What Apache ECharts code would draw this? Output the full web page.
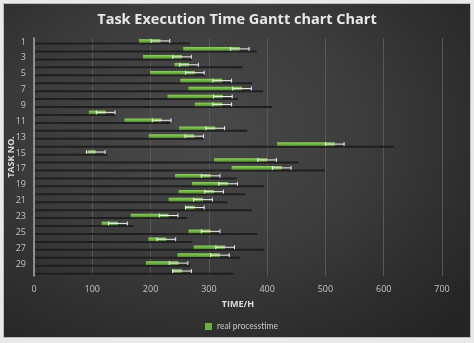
<!DOCTYPE html>
<html>
<head>
<meta charset="utf-8">
<script src="https://cdn.jsdelivr.net/npm/echarts@6/dist/echarts.min.js"></script>
<style>
html,body{margin:0;padding:0;background:#e9e9e9;}
#panel{position:absolute;left:3px;top:3px;width:466px;height:333px;border:1px solid #bdbdbd;
background:radial-gradient(ellipse 75% 80% at 42% 38%, #4a4a4a 0%, #3d3d3d 45%, #2b2b2b 85%, #252525 100%);}
#chart{position:absolute;left:0;top:0;width:474px;height:343px;}
</style>
</head>
<body>
<div id="panel"></div>
<div id="chart"></div>
<script>
const tasks = ['1','2','3','4','5','6','7','8','9','10','11','12','13','14','15','16','17','18','19','20','21','22','23','24','25','26','27','28','29','30'];
const startTime = [180,256,187,241,199,251,265,229,276,94,155,249,197,417,93,309,339,242,271,248,231,259,166,116,265,196,274,246,192,237];
const endTime   = [217,353,254,266,276,323,357,324,323,123,219,311,275,516,106,400,425,303,333,309,290,276,231,144,303,227,328,319,248,254];
const errAmount = [16,16,16,16,16,16,16,16,16,16,16,16,16,16,16,16,16,16,16,16,16,16,16,16,16,16,16,16,16,16];
const planTime  = [268,382,271,358,294,374,393,350,409,140,234,366,291,617,126,454,499,348,395,363,332,374,263,171,383,271,395,353,268,343];
const xTicks = [0,100,200,300,400,500,600,700];

const chart = echarts.init(document.getElementById('chart'), null, {renderer:'canvas'});

const greenData = tasks.map((t,i)=>[i,startTime[i],endTime[i],errAmount[i]]);
const darkData = tasks.map((t,i)=>[i,0,planTime[i]]);

const option = {
  backgroundColor: 'transparent',
  animation: false,
  title: {
    text: 'Task Execution Time Gantt chart Chart',
    left: 'center', top: 7,
    textStyle: {color:'#e8e8e8', fontFamily:'Open Sans', fontWeight:'bold', fontSize:14.5}
  },
  legend: {
    data: ['real processtime'],
    left: 200, top: 317,
    icon: 'rect', itemWidth: 7, itemHeight: 7, itemGap: 4,
    textStyle: {color:'#c8c8c8', fontFamily:'Lato', fontSize:8.5}
  },
  grid: {left:34, right:32, top:38, bottom:67, containLabel:false, outerBoundsMode:'none'},
  xAxis: {
    type:'value', min:xTicks[0], max:xTicks[xTicks.length-1], interval:100,
    name:'TIME/H', nameLocation:'middle', nameGap:24, nameMoveOverlap:false,
    nameTextStyle:{color:'#dcdcdc', fontFamily:'Open Sans', fontWeight:'bold', fontSize:9},
    axisLine:{show:false}, axisTick:{show:false},
    axisLabel:{color:'#c4c4c4', fontFamily:'Open Sans', fontSize:9, margin:9},
    splitLine:{show:true, lineStyle:{color:'#585858', width:1}}
  },
  yAxis: {
    type:'category', data: tasks, inverse:true,
    name:'TASK NO.', nameLocation:'middle', nameGap:18, nameRotate:90, nameMoveOverlap:false,
    nameTextStyle:{color:'#dcdcdc', fontFamily:'Open Sans', fontWeight:'bold', fontSize:9},
    axisLine:{show:true, lineStyle:{color:'#a8a8a8', width:1.5}},
    axisTick:{show:false},
    axisLabel:{color:'#c4c4c4', fontFamily:'Open Sans', fontSize:9, interval:1, margin:8},
    splitLine:{show:false}
  },
  series: [
    {
      name:'plan',
      type:'custom',
      data: darkData,
      encode:{x:[1,2], y:0},
      z: 1,
      renderItem: function(params, api){
        const c = api.value(0);
        const p0 = api.coord([api.value(1), c]);
        const p1 = api.coord([api.value(2), c]);
        const y = p0[1] + 1.6;
        return {type:'rect', shape:{x:p0[0]+1, y:y-1, width:p1[0]-p0[0]-1, height:2},
                style:{fill:'#1f1f1f'}};
      }
    },
    {
      name:'real processtime',
      type:'custom',
      data: greenData,
      encode:{x:[1,2], y:0},
      itemStyle:{color:'#6cb13e'},
      z: 2,
      renderItem: function(params, api){
        const c = api.value(0);
        const s = api.value(1), e = api.value(2), err = api.value(3);
        const p0 = api.coord([s, c]);
        const p1 = api.coord([e, c]);
        const e0 = api.coord([e-err, c])[0];
        const e1 = api.coord([e+err, c])[0];
        const y = p0[1] - 1;
        const h = 3.6;
        return {type:'group', children:[
          {type:'rect', shape:{x:p0[0], y:y-h/2, width:p1[0]-p0[0], height:h},
           style:{fill:new echarts.graphic.LinearGradient(0,0,0,1,[
             {offset:0,color:'#8fd062'},{offset:0.5,color:'#70b543'},{offset:1,color:'#4f8c2c'}])}},
          {type:'line', shape:{x1:e0, y1:y, x2:e1, y2:y}, style:{stroke:'#eeeeee', lineWidth:1}},
          {type:'line', shape:{x1:e0, y1:y-2, x2:e0, y2:y+2}, style:{stroke:'#eeeeee', lineWidth:1}},
          {type:'line', shape:{x1:e1, y1:y-2, x2:e1, y2:y+2}, style:{stroke:'#eeeeee', lineWidth:1}}
        ]};
      }
    }
  ]
};
chart.setOption(option);
</script>
</body>
</html>
